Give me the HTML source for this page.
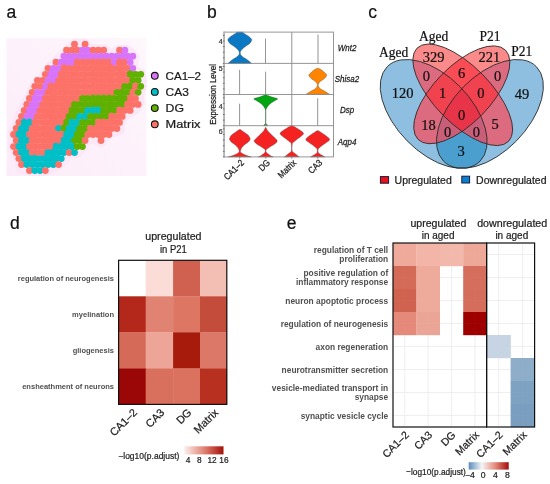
<!DOCTYPE html>
<html><head><meta charset="utf-8"><style>
html,body{margin:0;padding:0;background:#fff;overflow:hidden;width:550px;height:484px;}
svg{display:block;font-family:"Liberation Sans",sans-serif;will-change:transform;}
text{stroke-width:0.22px;}
text[fill="#222"]{stroke:#222;}
text[fill="#111"]{stroke:#111;}
text[fill="#1a1a1a"]{stroke:#1a1a1a;}
text[fill="#333"]{stroke:#333;}
</style></head><body>
<svg width="550" height="484" viewBox="0 0 550 484">
<defs><linearGradient id="bga" x1="0" y1="1" x2="1" y2="0"><stop offset="0" stop-color="#fcecf9"/><stop offset="1" stop-color="#fef7fc"/></linearGradient></defs><rect x="6.5" y="38" width="140" height="138" fill="url(#bga)"/>
<polygon points="75,43 85,43 90,48 105,49 110,54 118,50 126,49 131,52 135,57 133.5,64 134,70 141,73 142.5,81 142,88 139.5,95 140,104 135.5,110 128,114 123.5,118 120.5,124 120.5,130 112,133 105,137.5 101,143 93,139 85,142 83.5,147.5 77,153.5 69.5,154 65,158.5 59,165.5 50,169 46,171.5 29,171.5 21,169 18,159 15,153.5 12,147 12,140 11.5,134 14.5,127 17.5,120 21,111 24.5,104 28.5,97 31.5,91 37,80 42,79 45,73 48,68 55,61.5 62,55 66.5,50 72,47" fill="#fbe4f6" stroke="#fbe6f7" stroke-width="9" stroke-linejoin="round" opacity="0.8"/>
<circle cx="74.50" cy="44.20" r="3.4" fill="#fc7168"/>
<circle cx="85.10" cy="44.20" r="3.4" fill="#fc7168"/>
<circle cx="66.55" cy="50.22" r="3.4" fill="#fc7168"/>
<circle cx="71.85" cy="50.22" r="3.4" fill="#fc7168"/>
<circle cx="77.15" cy="50.22" r="3.4" fill="#fc7168"/>
<circle cx="82.45" cy="50.22" r="3.4" fill="#d874fa"/>
<circle cx="87.75" cy="50.22" r="3.4" fill="#d874fa"/>
<circle cx="93.05" cy="50.22" r="3.4" fill="#fc7168"/>
<circle cx="98.35" cy="50.22" r="3.4" fill="#fc7168"/>
<circle cx="103.65" cy="50.22" r="3.4" fill="#fc7168"/>
<circle cx="119.55" cy="50.22" r="3.4" fill="#fc7168"/>
<circle cx="124.85" cy="50.22" r="3.4" fill="#d874fa"/>
<circle cx="63.90" cy="56.24" r="3.4" fill="#d874fa"/>
<circle cx="69.20" cy="56.24" r="3.4" fill="#d874fa"/>
<circle cx="74.50" cy="56.24" r="3.4" fill="#d874fa"/>
<circle cx="79.80" cy="56.24" r="3.4" fill="#d874fa"/>
<polygon points="87.80,58.71 85.10,59.87 82.40,58.71 82.40,53.77 85.10,52.61 87.80,53.77" fill="#d874fa" stroke="#d874fa" stroke-width="0.8"/>
<circle cx="90.40" cy="56.24" r="3.4" fill="#d874fa"/>
<circle cx="95.70" cy="56.24" r="3.4" fill="#d874fa"/>
<circle cx="101.00" cy="56.24" r="3.4" fill="#d874fa"/>
<circle cx="106.30" cy="56.24" r="3.4" fill="#d874fa"/>
<circle cx="111.60" cy="56.24" r="3.4" fill="#d874fa"/>
<circle cx="116.90" cy="56.24" r="3.4" fill="#d874fa"/>
<polygon points="124.90,58.71 122.20,59.87 119.50,58.71 119.50,53.77 122.20,52.61 124.90,53.77" fill="#d874fa" stroke="#d874fa" stroke-width="0.8"/>
<circle cx="127.50" cy="56.24" r="3.4" fill="#d874fa"/>
<circle cx="132.80" cy="56.24" r="3.4" fill="#d874fa"/>
<circle cx="55.95" cy="62.26" r="3.4" fill="#fc7168"/>
<circle cx="61.25" cy="62.26" r="3.4" fill="#d874fa"/>
<polygon points="69.25,64.73 66.55,65.89 63.85,64.73 63.85,59.79 66.55,58.63 69.25,59.79" fill="#d874fa" stroke="#d874fa" stroke-width="0.8"/>
<polygon points="74.55,64.73 71.85,65.89 69.15,64.73 69.15,59.79 71.85,58.63 74.55,59.79" fill="#d874fa" stroke="#d874fa" stroke-width="0.8"/>
<polygon points="79.85,64.73 77.15,65.89 74.45,64.73 74.45,59.79 77.15,58.63 79.85,59.79" fill="#fc7168" stroke="#fc7168" stroke-width="0.8"/>
<circle cx="82.45" cy="62.26" r="3.4" fill="#fc7168"/>
<circle cx="87.75" cy="62.26" r="3.4" fill="#fc7168"/>
<polygon points="95.75,64.73 93.05,65.89 90.35,64.73 90.35,59.79 93.05,58.63 95.75,59.79" fill="#fc7168" stroke="#fc7168" stroke-width="0.8"/>
<polygon points="101.05,64.73 98.35,65.89 95.65,64.73 95.65,59.79 98.35,58.63 101.05,59.79" fill="#fc7168" stroke="#fc7168" stroke-width="0.8"/>
<polygon points="106.35,64.73 103.65,65.89 100.95,64.73 100.95,59.79 103.65,58.63 106.35,59.79" fill="#fc7168" stroke="#fc7168" stroke-width="0.8"/>
<polygon points="111.65,64.73 108.95,65.89 106.25,64.73 106.25,59.79 108.95,58.63 111.65,59.79" fill="#fc7168" stroke="#fc7168" stroke-width="0.8"/>
<circle cx="114.25" cy="62.26" r="3.4" fill="#d874fa"/>
<polygon points="122.25,64.73 119.55,65.89 116.85,64.73 116.85,59.79 119.55,58.63 122.25,59.79" fill="#fc7168" stroke="#fc7168" stroke-width="0.8"/>
<circle cx="124.85" cy="62.26" r="3.4" fill="#fc7168"/>
<circle cx="130.15" cy="62.26" r="3.4" fill="#d874fa"/>
<circle cx="48.00" cy="68.28" r="3.4" fill="#fc7168"/>
<circle cx="53.30" cy="68.28" r="3.4" fill="#d874fa"/>
<circle cx="58.60" cy="68.28" r="3.4" fill="#d874fa"/>
<polygon points="66.60,70.75 63.90,71.91 61.20,70.75 61.20,65.81 63.90,64.65 66.60,65.81" fill="#fc7168" stroke="#fc7168" stroke-width="0.8"/>
<circle cx="69.20" cy="68.28" r="3.4" fill="#fc7168"/>
<circle cx="74.50" cy="68.28" r="3.4" fill="#fc7168"/>
<circle cx="79.80" cy="68.28" r="3.4" fill="#fc7168"/>
<polygon points="87.80,70.75 85.10,71.91 82.40,70.75 82.40,65.81 85.10,64.65 87.80,65.81" fill="#fc7168" stroke="#fc7168" stroke-width="0.8"/>
<circle cx="90.40" cy="68.28" r="3.4" fill="#fc7168"/>
<circle cx="95.70" cy="68.28" r="3.4" fill="#fc7168"/>
<circle cx="101.00" cy="68.28" r="3.4" fill="#fc7168"/>
<circle cx="106.30" cy="68.28" r="3.4" fill="#fc7168"/>
<polygon points="114.30,70.75 111.60,71.91 108.90,70.75 108.90,65.81 111.60,64.65 114.30,65.81" fill="#fc7168" stroke="#fc7168" stroke-width="0.8"/>
<circle cx="116.90" cy="68.28" r="3.4" fill="#fc7168"/>
<polygon points="124.90,70.75 122.20,71.91 119.50,70.75 119.50,65.81 122.20,64.65 124.90,65.81" fill="#fc7168" stroke="#fc7168" stroke-width="0.8"/>
<circle cx="127.50" cy="68.28" r="3.4" fill="#fc7168"/>
<circle cx="132.80" cy="68.28" r="3.4" fill="#d874fa"/>
<circle cx="45.35" cy="74.30" r="3.4" fill="#fc7168"/>
<polygon points="53.35,76.77 50.65,77.93 47.95,76.77 47.95,71.83 50.65,70.67 53.35,71.83" fill="#d874fa" stroke="#d874fa" stroke-width="0.8"/>
<polygon points="58.65,76.77 55.95,77.93 53.25,76.77 53.25,71.83 55.95,70.67 58.65,71.83" fill="#d874fa" stroke="#d874fa" stroke-width="0.8"/>
<polygon points="63.95,76.77 61.25,77.93 58.55,76.77 58.55,71.83 61.25,70.67 63.95,71.83" fill="#fc7168" stroke="#fc7168" stroke-width="0.8"/>
<polygon points="69.25,76.77 66.55,77.93 63.85,76.77 63.85,71.83 66.55,70.67 69.25,71.83" fill="#fc7168" stroke="#fc7168" stroke-width="0.8"/>
<polygon points="74.55,76.77 71.85,77.93 69.15,76.77 69.15,71.83 71.85,70.67 74.55,71.83" fill="#fc7168" stroke="#fc7168" stroke-width="0.8"/>
<polygon points="79.85,76.77 77.15,77.93 74.45,76.77 74.45,71.83 77.15,70.67 79.85,71.83" fill="#fc7168" stroke="#fc7168" stroke-width="0.8"/>
<circle cx="82.45" cy="74.30" r="3.4" fill="#fc7168"/>
<circle cx="87.75" cy="74.30" r="3.4" fill="#fc7168"/>
<polygon points="95.75,76.77 93.05,77.93 90.35,76.77 90.35,71.83 93.05,70.67 95.75,71.83" fill="#fc7168" stroke="#fc7168" stroke-width="0.8"/>
<polygon points="101.05,76.77 98.35,77.93 95.65,76.77 95.65,71.83 98.35,70.67 101.05,71.83" fill="#fc7168" stroke="#fc7168" stroke-width="0.8"/>
<polygon points="106.35,76.77 103.65,77.93 100.95,76.77 100.95,71.83 103.65,70.67 106.35,71.83" fill="#fc7168" stroke="#fc7168" stroke-width="0.8"/>
<polygon points="111.65,76.77 108.95,77.93 106.25,76.77 106.25,71.83 108.95,70.67 111.65,71.83" fill="#fc7168" stroke="#fc7168" stroke-width="0.8"/>
<circle cx="114.25" cy="74.30" r="3.4" fill="#fc7168"/>
<polygon points="122.25,76.77 119.55,77.93 116.85,76.77 116.85,71.83 119.55,70.67 122.25,71.83" fill="#fc7168" stroke="#fc7168" stroke-width="0.8"/>
<circle cx="124.85" cy="74.30" r="3.4" fill="#fc7168"/>
<polygon points="132.85,76.77 130.15,77.93 127.45,76.77 127.45,71.83 130.15,70.67 132.85,71.83" fill="#60b000" stroke="#60b000" stroke-width="0.8"/>
<circle cx="135.45" cy="74.30" r="3.4" fill="#60b000"/>
<circle cx="140.75" cy="74.30" r="3.4" fill="#60b000"/>
<circle cx="37.40" cy="80.32" r="3.4" fill="#fc7168"/>
<circle cx="42.70" cy="80.32" r="3.4" fill="#fc7168"/>
<circle cx="48.00" cy="80.32" r="3.4" fill="#d874fa"/>
<polygon points="56.00,82.79 53.30,83.95 50.60,82.79 50.60,77.85 53.30,76.69 56.00,77.85" fill="#d874fa" stroke="#d874fa" stroke-width="0.8"/>
<circle cx="58.60" cy="80.32" r="3.4" fill="#fc7168"/>
<polygon points="66.60,82.79 63.90,83.95 61.20,82.79 61.20,77.85 63.90,76.69 66.60,77.85" fill="#fc7168" stroke="#fc7168" stroke-width="0.8"/>
<circle cx="69.20" cy="80.32" r="3.4" fill="#fc7168"/>
<circle cx="74.50" cy="80.32" r="3.4" fill="#fc7168"/>
<circle cx="79.80" cy="80.32" r="3.4" fill="#fc7168"/>
<polygon points="87.80,82.79 85.10,83.95 82.40,82.79 82.40,77.85 85.10,76.69 87.80,77.85" fill="#fc7168" stroke="#fc7168" stroke-width="0.8"/>
<circle cx="90.40" cy="80.32" r="3.4" fill="#fc7168"/>
<circle cx="95.70" cy="80.32" r="3.4" fill="#fc7168"/>
<circle cx="101.00" cy="80.32" r="3.4" fill="#fc7168"/>
<circle cx="106.30" cy="80.32" r="3.4" fill="#fc7168"/>
<polygon points="114.30,82.79 111.60,83.95 108.90,82.79 108.90,77.85 111.60,76.69 114.30,77.85" fill="#fc7168" stroke="#fc7168" stroke-width="0.8"/>
<circle cx="116.90" cy="80.32" r="3.4" fill="#fc7168"/>
<polygon points="124.90,82.79 122.20,83.95 119.50,82.79 119.50,77.85 122.20,76.69 124.90,77.85" fill="#fc7168" stroke="#fc7168" stroke-width="0.8"/>
<circle cx="127.50" cy="80.32" r="3.4" fill="#fc7168"/>
<circle cx="132.80" cy="80.32" r="3.4" fill="#60b000"/>
<circle cx="138.10" cy="80.32" r="3.4" fill="#60b000"/>
<circle cx="34.75" cy="86.34" r="3.4" fill="#fc7168"/>
<circle cx="40.05" cy="86.34" r="3.4" fill="#fc7168"/>
<polygon points="48.05,88.81 45.35,89.97 42.65,88.81 42.65,83.87 45.35,82.71 48.05,83.87" fill="#d874fa" stroke="#d874fa" stroke-width="0.8"/>
<polygon points="53.35,88.81 50.65,89.97 47.95,88.81 47.95,83.87 50.65,82.71 53.35,83.87" fill="#fc7168" stroke="#fc7168" stroke-width="0.8"/>
<polygon points="58.65,88.81 55.95,89.97 53.25,88.81 53.25,83.87 55.95,82.71 58.65,83.87" fill="#fc7168" stroke="#fc7168" stroke-width="0.8"/>
<polygon points="63.95,88.81 61.25,89.97 58.55,88.81 58.55,83.87 61.25,82.71 63.95,83.87" fill="#fc7168" stroke="#fc7168" stroke-width="0.8"/>
<polygon points="69.25,88.81 66.55,89.97 63.85,88.81 63.85,83.87 66.55,82.71 69.25,83.87" fill="#fc7168" stroke="#fc7168" stroke-width="0.8"/>
<polygon points="74.55,88.81 71.85,89.97 69.15,88.81 69.15,83.87 71.85,82.71 74.55,83.87" fill="#fc7168" stroke="#fc7168" stroke-width="0.8"/>
<polygon points="79.85,88.81 77.15,89.97 74.45,88.81 74.45,83.87 77.15,82.71 79.85,83.87" fill="#fc7168" stroke="#fc7168" stroke-width="0.8"/>
<circle cx="82.45" cy="86.34" r="3.4" fill="#fc7168"/>
<circle cx="87.75" cy="86.34" r="3.4" fill="#fc7168"/>
<polygon points="95.75,88.81 93.05,89.97 90.35,88.81 90.35,83.87 93.05,82.71 95.75,83.87" fill="#fc7168" stroke="#fc7168" stroke-width="0.8"/>
<polygon points="101.05,88.81 98.35,89.97 95.65,88.81 95.65,83.87 98.35,82.71 101.05,83.87" fill="#fc7168" stroke="#fc7168" stroke-width="0.8"/>
<polygon points="106.35,88.81 103.65,89.97 100.95,88.81 100.95,83.87 103.65,82.71 106.35,83.87" fill="#fc7168" stroke="#fc7168" stroke-width="0.8"/>
<polygon points="111.65,88.81 108.95,89.97 106.25,88.81 106.25,83.87 108.95,82.71 111.65,83.87" fill="#fc7168" stroke="#fc7168" stroke-width="0.8"/>
<circle cx="114.25" cy="86.34" r="3.4" fill="#fc7168"/>
<polygon points="122.25,88.81 119.55,89.97 116.85,88.81 116.85,83.87 119.55,82.71 122.25,83.87" fill="#fc7168" stroke="#fc7168" stroke-width="0.8"/>
<circle cx="124.85" cy="86.34" r="3.4" fill="#60b000"/>
<polygon points="132.85,88.81 130.15,89.97 127.45,88.81 127.45,83.87 130.15,82.71 132.85,83.87" fill="#60b000" stroke="#60b000" stroke-width="0.8"/>
<polygon points="138.15,88.81 135.45,89.97 132.75,88.81 132.75,83.87 135.45,82.71 138.15,83.87" fill="#fc7168" stroke="#fc7168" stroke-width="0.8"/>
<circle cx="140.75" cy="86.34" r="3.4" fill="#60b000"/>
<circle cx="32.10" cy="92.36" r="3.4" fill="#fc7168"/>
<circle cx="37.40" cy="92.36" r="3.4" fill="#d874fa"/>
<circle cx="42.70" cy="92.36" r="3.4" fill="#d874fa"/>
<circle cx="48.00" cy="92.36" r="3.4" fill="#fc7168"/>
<polygon points="56.00,94.83 53.30,95.99 50.60,94.83 50.60,89.89 53.30,88.73 56.00,89.89" fill="#fc7168" stroke="#fc7168" stroke-width="0.8"/>
<circle cx="58.60" cy="92.36" r="3.4" fill="#fc7168"/>
<polygon points="66.60,94.83 63.90,95.99 61.20,94.83 61.20,89.89 63.90,88.73 66.60,89.89" fill="#fc7168" stroke="#fc7168" stroke-width="0.8"/>
<circle cx="69.20" cy="92.36" r="3.4" fill="#fc7168"/>
<circle cx="74.50" cy="92.36" r="3.4" fill="#fc7168"/>
<circle cx="79.80" cy="92.36" r="3.4" fill="#fc7168"/>
<polygon points="87.80,94.83 85.10,95.99 82.40,94.83 82.40,89.89 85.10,88.73 87.80,89.89" fill="#fc7168" stroke="#fc7168" stroke-width="0.8"/>
<circle cx="90.40" cy="92.36" r="3.4" fill="#fc7168"/>
<circle cx="95.70" cy="92.36" r="3.4" fill="#fc7168"/>
<circle cx="101.00" cy="92.36" r="3.4" fill="#fc7168"/>
<circle cx="106.30" cy="92.36" r="3.4" fill="#fc7168"/>
<polygon points="114.30,94.83 111.60,95.99 108.90,94.83 108.90,89.89 111.60,88.73 114.30,89.89" fill="#fc7168" stroke="#fc7168" stroke-width="0.8"/>
<circle cx="116.90" cy="92.36" r="3.4" fill="#60b000"/>
<polygon points="124.90,94.83 122.20,95.99 119.50,94.83 119.50,89.89 122.20,88.73 124.90,89.89" fill="#60b000" stroke="#60b000" stroke-width="0.8"/>
<circle cx="127.50" cy="92.36" r="3.4" fill="#60b000"/>
<circle cx="132.80" cy="92.36" r="3.4" fill="#fc7168"/>
<circle cx="138.10" cy="92.36" r="3.4" fill="#60b000"/>
<circle cx="29.45" cy="98.38" r="3.4" fill="#fc7168"/>
<polygon points="37.45,100.85 34.75,102.01 32.05,100.85 32.05,95.91 34.75,94.75 37.45,95.91" fill="#d874fa" stroke="#d874fa" stroke-width="0.8"/>
<circle cx="40.05" cy="98.38" r="3.4" fill="#d874fa"/>
<polygon points="48.05,100.85 45.35,102.01 42.65,100.85 42.65,95.91 45.35,94.75 48.05,95.91" fill="#fc7168" stroke="#fc7168" stroke-width="0.8"/>
<polygon points="53.35,100.85 50.65,102.01 47.95,100.85 47.95,95.91 50.65,94.75 53.35,95.91" fill="#fc7168" stroke="#fc7168" stroke-width="0.8"/>
<polygon points="58.65,100.85 55.95,102.01 53.25,100.85 53.25,95.91 55.95,94.75 58.65,95.91" fill="#fc7168" stroke="#fc7168" stroke-width="0.8"/>
<polygon points="63.95,100.85 61.25,102.01 58.55,100.85 58.55,95.91 61.25,94.75 63.95,95.91" fill="#fc7168" stroke="#fc7168" stroke-width="0.8"/>
<polygon points="69.25,100.85 66.55,102.01 63.85,100.85 63.85,95.91 66.55,94.75 69.25,95.91" fill="#fc7168" stroke="#fc7168" stroke-width="0.8"/>
<polygon points="74.55,100.85 71.85,102.01 69.15,100.85 69.15,95.91 71.85,94.75 74.55,95.91" fill="#fc7168" stroke="#fc7168" stroke-width="0.8"/>
<polygon points="79.85,100.85 77.15,102.01 74.45,100.85 74.45,95.91 77.15,94.75 79.85,95.91" fill="#fc7168" stroke="#fc7168" stroke-width="0.8"/>
<circle cx="82.45" cy="98.38" r="3.4" fill="#60b000"/>
<circle cx="87.75" cy="98.38" r="3.4" fill="#60b000"/>
<polygon points="95.75,100.85 93.05,102.01 90.35,100.85 90.35,95.91 93.05,94.75 95.75,95.91" fill="#60b000" stroke="#60b000" stroke-width="0.8"/>
<polygon points="101.05,100.85 98.35,102.01 95.65,100.85 95.65,95.91 98.35,94.75 101.05,95.91" fill="#60b000" stroke="#60b000" stroke-width="0.8"/>
<polygon points="106.35,100.85 103.65,102.01 100.95,100.85 100.95,95.91 103.65,94.75 106.35,95.91" fill="#60b000" stroke="#60b000" stroke-width="0.8"/>
<polygon points="111.65,100.85 108.95,102.01 106.25,100.85 106.25,95.91 108.95,94.75 111.65,95.91" fill="#60b000" stroke="#60b000" stroke-width="0.8"/>
<circle cx="114.25" cy="98.38" r="3.4" fill="#60b000"/>
<polygon points="122.25,100.85 119.55,102.01 116.85,100.85 116.85,95.91 119.55,94.75 122.25,95.91" fill="#60b000" stroke="#60b000" stroke-width="0.8"/>
<circle cx="124.85" cy="98.38" r="3.4" fill="#60b000"/>
<polygon points="132.85,100.85 130.15,102.01 127.45,100.85 127.45,95.91 130.15,94.75 132.85,95.91" fill="#fc7168" stroke="#fc7168" stroke-width="0.8"/>
<circle cx="135.45" cy="98.38" r="3.4" fill="#fc7168"/>
<circle cx="26.80" cy="104.40" r="3.4" fill="#fc7168"/>
<circle cx="32.10" cy="104.40" r="3.4" fill="#d874fa"/>
<circle cx="37.40" cy="104.40" r="3.4" fill="#d874fa"/>
<circle cx="42.70" cy="104.40" r="3.4" fill="#fc7168"/>
<circle cx="48.00" cy="104.40" r="3.4" fill="#fc7168"/>
<polygon points="56.00,106.87 53.30,108.03 50.60,106.87 50.60,101.93 53.30,100.77 56.00,101.93" fill="#fc7168" stroke="#fc7168" stroke-width="0.8"/>
<circle cx="58.60" cy="104.40" r="3.4" fill="#fc7168"/>
<polygon points="66.60,106.87 63.90,108.03 61.20,106.87 61.20,101.93 63.90,100.77 66.60,101.93" fill="#fc7168" stroke="#fc7168" stroke-width="0.8"/>
<circle cx="69.20" cy="104.40" r="3.4" fill="#fc7168"/>
<circle cx="74.50" cy="104.40" r="3.4" fill="#60b000"/>
<circle cx="79.80" cy="104.40" r="3.4" fill="#60b000"/>
<polygon points="87.80,106.87 85.10,108.03 82.40,106.87 82.40,101.93 85.10,100.77 87.80,101.93" fill="#60b000" stroke="#60b000" stroke-width="0.8"/>
<circle cx="90.40" cy="104.40" r="3.4" fill="#60b000"/>
<circle cx="95.70" cy="104.40" r="3.4" fill="#60b000"/>
<circle cx="101.00" cy="104.40" r="3.4" fill="#60b000"/>
<circle cx="106.30" cy="104.40" r="3.4" fill="#60b000"/>
<polygon points="114.30,106.87 111.60,108.03 108.90,106.87 108.90,101.93 111.60,100.77 114.30,101.93" fill="#60b000" stroke="#60b000" stroke-width="0.8"/>
<circle cx="116.90" cy="104.40" r="3.4" fill="#60b000"/>
<polygon points="124.90,106.87 122.20,108.03 119.50,106.87 119.50,101.93 122.20,100.77 124.90,101.93" fill="#60b000" stroke="#60b000" stroke-width="0.8"/>
<circle cx="127.50" cy="104.40" r="3.4" fill="#fc7168"/>
<circle cx="132.80" cy="104.40" r="3.4" fill="#fc7168"/>
<circle cx="138.10" cy="104.40" r="3.4" fill="#fc7168"/>
<circle cx="24.15" cy="110.42" r="3.4" fill="#fc7168"/>
<polygon points="32.15,112.89 29.45,114.05 26.75,112.89 26.75,107.95 29.45,106.79 32.15,107.95" fill="#d874fa" stroke="#d874fa" stroke-width="0.8"/>
<polygon points="37.45,112.89 34.75,114.05 32.05,112.89 32.05,107.95 34.75,106.79 37.45,107.95" fill="#d874fa" stroke="#d874fa" stroke-width="0.8"/>
<circle cx="40.05" cy="110.42" r="3.4" fill="#fc7168"/>
<polygon points="48.05,112.89 45.35,114.05 42.65,112.89 42.65,107.95 45.35,106.79 48.05,107.95" fill="#fc7168" stroke="#fc7168" stroke-width="0.8"/>
<polygon points="53.35,112.89 50.65,114.05 47.95,112.89 47.95,107.95 50.65,106.79 53.35,107.95" fill="#fc7168" stroke="#fc7168" stroke-width="0.8"/>
<polygon points="58.65,112.89 55.95,114.05 53.25,112.89 53.25,107.95 55.95,106.79 58.65,107.95" fill="#fc7168" stroke="#fc7168" stroke-width="0.8"/>
<polygon points="63.95,112.89 61.25,114.05 58.55,112.89 58.55,107.95 61.25,106.79 63.95,107.95" fill="#fc7168" stroke="#fc7168" stroke-width="0.8"/>
<polygon points="69.25,112.89 66.55,114.05 63.85,112.89 63.85,107.95 66.55,106.79 69.25,107.95" fill="#fc7168" stroke="#fc7168" stroke-width="0.8"/>
<polygon points="74.55,112.89 71.85,114.05 69.15,112.89 69.15,107.95 71.85,106.79 74.55,107.95" fill="#60b000" stroke="#60b000" stroke-width="0.8"/>
<polygon points="79.85,112.89 77.15,114.05 74.45,112.89 74.45,107.95 77.15,106.79 79.85,107.95" fill="#60b000" stroke="#60b000" stroke-width="0.8"/>
<circle cx="82.45" cy="110.42" r="3.4" fill="#60b000"/>
<circle cx="87.75" cy="110.42" r="3.4" fill="#00bfc6"/>
<polygon points="95.75,112.89 93.05,114.05 90.35,112.89 90.35,107.95 93.05,106.79 95.75,107.95" fill="#00bfc6" stroke="#00bfc6" stroke-width="0.8"/>
<polygon points="101.05,112.89 98.35,114.05 95.65,112.89 95.65,107.95 98.35,106.79 101.05,107.95" fill="#00bfc6" stroke="#00bfc6" stroke-width="0.8"/>
<polygon points="106.35,112.89 103.65,114.05 100.95,112.89 100.95,107.95 103.65,106.79 106.35,107.95" fill="#60b000" stroke="#60b000" stroke-width="0.8"/>
<polygon points="111.65,112.89 108.95,114.05 106.25,112.89 106.25,107.95 108.95,106.79 111.65,107.95" fill="#60b000" stroke="#60b000" stroke-width="0.8"/>
<circle cx="114.25" cy="110.42" r="3.4" fill="#60b000"/>
<polygon points="122.25,112.89 119.55,114.05 116.85,112.89 116.85,107.95 119.55,106.79 122.25,107.95" fill="#fc7168" stroke="#fc7168" stroke-width="0.8"/>
<circle cx="124.85" cy="110.42" r="3.4" fill="#fc7168"/>
<circle cx="130.15" cy="110.42" r="3.4" fill="#fc7168"/>
<circle cx="21.50" cy="116.44" r="3.4" fill="#fc7168"/>
<circle cx="26.80" cy="116.44" r="3.4" fill="#d874fa"/>
<circle cx="32.10" cy="116.44" r="3.4" fill="#d874fa"/>
<circle cx="37.40" cy="116.44" r="3.4" fill="#fc7168"/>
<circle cx="42.70" cy="116.44" r="3.4" fill="#fc7168"/>
<circle cx="48.00" cy="116.44" r="3.4" fill="#fc7168"/>
<polygon points="56.00,118.91 53.30,120.07 50.60,118.91 50.60,113.97 53.30,112.81 56.00,113.97" fill="#fc7168" stroke="#fc7168" stroke-width="0.8"/>
<circle cx="58.60" cy="116.44" r="3.4" fill="#fc7168"/>
<polygon points="66.60,118.91 63.90,120.07 61.20,118.91 61.20,113.97 63.90,112.81 66.60,113.97" fill="#fc7168" stroke="#fc7168" stroke-width="0.8"/>
<circle cx="69.20" cy="116.44" r="3.4" fill="#60b000"/>
<circle cx="74.50" cy="116.44" r="3.4" fill="#60b000"/>
<circle cx="79.80" cy="116.44" r="3.4" fill="#00bfc6"/>
<polygon points="87.80,118.91 85.10,120.07 82.40,118.91 82.40,113.97 85.10,112.81 87.80,113.97" fill="#00bfc6" stroke="#00bfc6" stroke-width="0.8"/>
<circle cx="90.40" cy="116.44" r="3.4" fill="#60b000"/>
<circle cx="95.70" cy="116.44" r="3.4" fill="#60b000"/>
<circle cx="101.00" cy="116.44" r="3.4" fill="#60b000"/>
<circle cx="106.30" cy="116.44" r="3.4" fill="#60b000"/>
<polygon points="114.30,118.91 111.60,120.07 108.90,118.91 108.90,113.97 111.60,112.81 114.30,113.97" fill="#fc7168" stroke="#fc7168" stroke-width="0.8"/>
<circle cx="116.90" cy="116.44" r="3.4" fill="#fc7168"/>
<circle cx="122.20" cy="116.44" r="3.4" fill="#fc7168"/>
<circle cx="18.85" cy="122.46" r="3.4" fill="#fc7168"/>
<polygon points="26.85,124.93 24.15,126.09 21.45,124.93 21.45,119.99 24.15,118.83 26.85,119.99" fill="#00bfc6" stroke="#00bfc6" stroke-width="0.8"/>
<polygon points="32.15,124.93 29.45,126.09 26.75,124.93 26.75,119.99 29.45,118.83 32.15,119.99" fill="#00bfc6" stroke="#00bfc6" stroke-width="0.8"/>
<polygon points="37.45,124.93 34.75,126.09 32.05,124.93 32.05,119.99 34.75,118.83 37.45,119.99" fill="#fc7168" stroke="#fc7168" stroke-width="0.8"/>
<circle cx="40.05" cy="122.46" r="3.4" fill="#fc7168"/>
<polygon points="48.05,124.93 45.35,126.09 42.65,124.93 42.65,119.99 45.35,118.83 48.05,119.99" fill="#fc7168" stroke="#fc7168" stroke-width="0.8"/>
<polygon points="53.35,124.93 50.65,126.09 47.95,124.93 47.95,119.99 50.65,118.83 53.35,119.99" fill="#fc7168" stroke="#fc7168" stroke-width="0.8"/>
<polygon points="58.65,124.93 55.95,126.09 53.25,124.93 53.25,119.99 55.95,118.83 58.65,119.99" fill="#fc7168" stroke="#fc7168" stroke-width="0.8"/>
<polygon points="63.95,124.93 61.25,126.09 58.55,124.93 58.55,119.99 61.25,118.83 63.95,119.99" fill="#fc7168" stroke="#fc7168" stroke-width="0.8"/>
<polygon points="69.25,124.93 66.55,126.09 63.85,124.93 63.85,119.99 66.55,118.83 69.25,119.99" fill="#60b000" stroke="#60b000" stroke-width="0.8"/>
<polygon points="74.55,124.93 71.85,126.09 69.15,124.93 69.15,119.99 71.85,118.83 74.55,119.99" fill="#00bfc6" stroke="#00bfc6" stroke-width="0.8"/>
<polygon points="79.85,124.93 77.15,126.09 74.45,124.93 74.45,119.99 77.15,118.83 79.85,119.99" fill="#00bfc6" stroke="#00bfc6" stroke-width="0.8"/>
<circle cx="82.45" cy="122.46" r="3.4" fill="#60b000"/>
<circle cx="87.75" cy="122.46" r="3.4" fill="#60b000"/>
<polygon points="95.75,124.93 93.05,126.09 90.35,124.93 90.35,119.99 93.05,118.83 95.75,119.99" fill="#60b000" stroke="#60b000" stroke-width="0.8"/>
<polygon points="101.05,124.93 98.35,126.09 95.65,124.93 95.65,119.99 98.35,118.83 101.05,119.99" fill="#fc7168" stroke="#fc7168" stroke-width="0.8"/>
<polygon points="106.35,124.93 103.65,126.09 100.95,124.93 100.95,119.99 103.65,118.83 106.35,119.99" fill="#fc7168" stroke="#fc7168" stroke-width="0.8"/>
<polygon points="111.65,124.93 108.95,126.09 106.25,124.93 106.25,119.99 108.95,118.83 111.65,119.99" fill="#fc7168" stroke="#fc7168" stroke-width="0.8"/>
<circle cx="114.25" cy="122.46" r="3.4" fill="#fc7168"/>
<circle cx="119.55" cy="122.46" r="3.4" fill="#fc7168"/>
<circle cx="16.20" cy="128.48" r="3.4" fill="#fc7168"/>
<circle cx="21.50" cy="128.48" r="3.4" fill="#00bfc6"/>
<circle cx="26.80" cy="128.48" r="3.4" fill="#00bfc6"/>
<circle cx="32.10" cy="128.48" r="3.4" fill="#fc7168"/>
<circle cx="37.40" cy="128.48" r="3.4" fill="#fc7168"/>
<circle cx="42.70" cy="128.48" r="3.4" fill="#fc7168"/>
<circle cx="48.00" cy="128.48" r="3.4" fill="#fc7168"/>
<polygon points="56.00,130.95 53.30,132.11 50.60,130.95 50.60,126.01 53.30,124.85 56.00,126.01" fill="#fc7168" stroke="#fc7168" stroke-width="0.8"/>
<circle cx="58.60" cy="128.48" r="3.4" fill="#00bfc6"/>
<polygon points="66.60,130.95 63.90,132.11 61.20,130.95 61.20,126.01 63.90,124.85 66.60,126.01" fill="#60b000" stroke="#60b000" stroke-width="0.8"/>
<circle cx="69.20" cy="128.48" r="3.4" fill="#00bfc6"/>
<circle cx="74.50" cy="128.48" r="3.4" fill="#00bfc6"/>
<circle cx="79.80" cy="128.48" r="3.4" fill="#60b000"/>
<polygon points="87.80,130.95 85.10,132.11 82.40,130.95 82.40,126.01 85.10,124.85 87.80,126.01" fill="#60b000" stroke="#60b000" stroke-width="0.8"/>
<circle cx="90.40" cy="128.48" r="3.4" fill="#fc7168"/>
<circle cx="95.70" cy="128.48" r="3.4" fill="#fc7168"/>
<circle cx="101.00" cy="128.48" r="3.4" fill="#fc7168"/>
<circle cx="106.30" cy="128.48" r="3.4" fill="#fc7168"/>
<circle cx="111.60" cy="128.48" r="3.4" fill="#fc7168"/>
<circle cx="116.90" cy="128.48" r="3.4" fill="#fc7168"/>
<circle cx="13.55" cy="134.50" r="3.4" fill="#fc7168"/>
<polygon points="21.55,136.97 18.85,138.13 16.15,136.97 16.15,132.03 18.85,130.87 21.55,132.03" fill="#00bfc6" stroke="#00bfc6" stroke-width="0.8"/>
<polygon points="26.85,136.97 24.15,138.13 21.45,136.97 21.45,132.03 24.15,130.87 26.85,132.03" fill="#00bfc6" stroke="#00bfc6" stroke-width="0.8"/>
<polygon points="32.15,136.97 29.45,138.13 26.75,136.97 26.75,132.03 29.45,130.87 32.15,132.03" fill="#fc7168" stroke="#fc7168" stroke-width="0.8"/>
<polygon points="37.45,136.97 34.75,138.13 32.05,136.97 32.05,132.03 34.75,130.87 37.45,132.03" fill="#fc7168" stroke="#fc7168" stroke-width="0.8"/>
<circle cx="40.05" cy="134.50" r="3.4" fill="#fc7168"/>
<polygon points="48.05,136.97 45.35,138.13 42.65,136.97 42.65,132.03 45.35,130.87 48.05,132.03" fill="#fc7168" stroke="#fc7168" stroke-width="0.8"/>
<polygon points="53.35,136.97 50.65,138.13 47.95,136.97 47.95,132.03 50.65,130.87 53.35,132.03" fill="#fc7168" stroke="#fc7168" stroke-width="0.8"/>
<polygon points="58.65,136.97 55.95,138.13 53.25,136.97 53.25,132.03 55.95,130.87 58.65,132.03" fill="#fc7168" stroke="#fc7168" stroke-width="0.8"/>
<polygon points="63.95,136.97 61.25,138.13 58.55,136.97 58.55,132.03 61.25,130.87 63.95,132.03" fill="#fc7168" stroke="#fc7168" stroke-width="0.8"/>
<polygon points="69.25,136.97 66.55,138.13 63.85,136.97 63.85,132.03 66.55,130.87 69.25,132.03" fill="#00bfc6" stroke="#00bfc6" stroke-width="0.8"/>
<polygon points="74.55,136.97 71.85,138.13 69.15,136.97 69.15,132.03 71.85,130.87 74.55,132.03" fill="#00bfc6" stroke="#00bfc6" stroke-width="0.8"/>
<polygon points="79.85,136.97 77.15,138.13 74.45,136.97 74.45,132.03 77.15,130.87 79.85,132.03" fill="#60b000" stroke="#60b000" stroke-width="0.8"/>
<circle cx="82.45" cy="134.50" r="3.4" fill="#60b000"/>
<circle cx="87.75" cy="134.50" r="3.4" fill="#fc7168"/>
<circle cx="93.05" cy="134.50" r="3.4" fill="#fc7168"/>
<circle cx="98.35" cy="134.50" r="3.4" fill="#fc7168"/>
<circle cx="103.65" cy="134.50" r="3.4" fill="#fc7168"/>
<circle cx="108.95" cy="134.50" r="3.4" fill="#fc7168"/>
<circle cx="16.20" cy="140.52" r="3.4" fill="#fc7168"/>
<circle cx="21.50" cy="140.52" r="3.4" fill="#00bfc6"/>
<circle cx="26.80" cy="140.52" r="3.4" fill="#00bfc6"/>
<circle cx="32.10" cy="140.52" r="3.4" fill="#fc7168"/>
<circle cx="37.40" cy="140.52" r="3.4" fill="#fc7168"/>
<circle cx="42.70" cy="140.52" r="3.4" fill="#fc7168"/>
<circle cx="48.00" cy="140.52" r="3.4" fill="#fc7168"/>
<polygon points="56.00,142.99 53.30,144.15 50.60,142.99 50.60,138.05 53.30,136.89 56.00,138.05" fill="#fc7168" stroke="#fc7168" stroke-width="0.8"/>
<circle cx="58.60" cy="140.52" r="3.4" fill="#fc7168"/>
<polygon points="66.60,142.99 63.90,144.15 61.20,142.99 61.20,138.05 63.90,136.89 66.60,138.05" fill="#00bfc6" stroke="#00bfc6" stroke-width="0.8"/>
<circle cx="69.20" cy="140.52" r="3.4" fill="#00bfc6"/>
<circle cx="74.50" cy="140.52" r="3.4" fill="#60b000"/>
<circle cx="79.80" cy="140.52" r="3.4" fill="#60b000"/>
<circle cx="85.10" cy="140.52" r="3.4" fill="#fc7168"/>
<circle cx="101.00" cy="140.52" r="3.4" fill="#fc7168"/>
<circle cx="13.55" cy="146.54" r="3.4" fill="#fc7168"/>
<polygon points="21.55,149.01 18.85,150.17 16.15,149.01 16.15,144.07 18.85,142.91 21.55,144.07" fill="#00bfc6" stroke="#00bfc6" stroke-width="0.8"/>
<polygon points="26.85,149.01 24.15,150.17 21.45,149.01 21.45,144.07 24.15,142.91 26.85,144.07" fill="#00bfc6" stroke="#00bfc6" stroke-width="0.8"/>
<polygon points="32.15,149.01 29.45,150.17 26.75,149.01 26.75,144.07 29.45,142.91 32.15,144.07" fill="#fc7168" stroke="#fc7168" stroke-width="0.8"/>
<polygon points="37.45,149.01 34.75,150.17 32.05,149.01 32.05,144.07 34.75,142.91 37.45,144.07" fill="#fc7168" stroke="#fc7168" stroke-width="0.8"/>
<circle cx="40.05" cy="146.54" r="3.4" fill="#fc7168"/>
<polygon points="48.05,149.01 45.35,150.17 42.65,149.01 42.65,144.07 45.35,142.91 48.05,144.07" fill="#fc7168" stroke="#fc7168" stroke-width="0.8"/>
<polygon points="53.35,149.01 50.65,150.17 47.95,149.01 47.95,144.07 50.65,142.91 53.35,144.07" fill="#fc7168" stroke="#fc7168" stroke-width="0.8"/>
<polygon points="58.65,149.01 55.95,150.17 53.25,149.01 53.25,144.07 55.95,142.91 58.65,144.07" fill="#00bfc6" stroke="#00bfc6" stroke-width="0.8"/>
<polygon points="63.95,149.01 61.25,150.17 58.55,149.01 58.55,144.07 61.25,142.91 63.95,144.07" fill="#00bfc6" stroke="#00bfc6" stroke-width="0.8"/>
<polygon points="69.25,149.01 66.55,150.17 63.85,149.01 63.85,144.07 66.55,142.91 69.25,144.07" fill="#00bfc6" stroke="#00bfc6" stroke-width="0.8"/>
<polygon points="74.55,149.01 71.85,150.17 69.15,149.01 69.15,144.07 71.85,142.91 74.55,144.07" fill="#00bfc6" stroke="#00bfc6" stroke-width="0.8"/>
<circle cx="77.15" cy="146.54" r="3.4" fill="#60b000"/>
<circle cx="82.45" cy="146.54" r="3.4" fill="#60b000"/>
<circle cx="16.20" cy="152.56" r="3.4" fill="#fc7168"/>
<circle cx="21.50" cy="152.56" r="3.4" fill="#00bfc6"/>
<circle cx="26.80" cy="152.56" r="3.4" fill="#00bfc6"/>
<circle cx="32.10" cy="152.56" r="3.4" fill="#fc7168"/>
<circle cx="37.40" cy="152.56" r="3.4" fill="#fc7168"/>
<circle cx="42.70" cy="152.56" r="3.4" fill="#fc7168"/>
<circle cx="48.00" cy="152.56" r="3.4" fill="#00bfc6"/>
<polygon points="56.00,155.03 53.30,156.19 50.60,155.03 50.60,150.09 53.30,148.93 56.00,150.09" fill="#00bfc6" stroke="#00bfc6" stroke-width="0.8"/>
<circle cx="58.60" cy="152.56" r="3.4" fill="#00bfc6"/>
<circle cx="63.90" cy="152.56" r="3.4" fill="#00bfc6"/>
<circle cx="69.20" cy="152.56" r="3.4" fill="#fc7168"/>
<circle cx="74.50" cy="152.56" r="3.4" fill="#00bfc6"/>
<circle cx="18.85" cy="158.58" r="3.4" fill="#fc7168"/>
<polygon points="26.85,161.05 24.15,162.21 21.45,161.05 21.45,156.11 24.15,154.95 26.85,156.11" fill="#00bfc6" stroke="#00bfc6" stroke-width="0.8"/>
<polygon points="32.15,161.05 29.45,162.21 26.75,161.05 26.75,156.11 29.45,154.95 32.15,156.11" fill="#00bfc6" stroke="#00bfc6" stroke-width="0.8"/>
<polygon points="37.45,161.05 34.75,162.21 32.05,161.05 32.05,156.11 34.75,154.95 37.45,156.11" fill="#00bfc6" stroke="#00bfc6" stroke-width="0.8"/>
<circle cx="40.05" cy="158.58" r="3.4" fill="#00bfc6"/>
<polygon points="48.05,161.05 45.35,162.21 42.65,161.05 42.65,156.11 45.35,154.95 48.05,156.11" fill="#00bfc6" stroke="#00bfc6" stroke-width="0.8"/>
<polygon points="53.35,161.05 50.65,162.21 47.95,161.05 47.95,156.11 50.65,154.95 53.35,156.11" fill="#00bfc6" stroke="#00bfc6" stroke-width="0.8"/>
<polygon points="58.65,161.05 55.95,162.21 53.25,161.05 53.25,156.11 55.95,154.95 58.65,156.11" fill="#00bfc6" stroke="#00bfc6" stroke-width="0.8"/>
<circle cx="61.25" cy="158.58" r="3.4" fill="#00bfc6"/>
<circle cx="21.50" cy="164.60" r="3.4" fill="#fc7168"/>
<circle cx="26.80" cy="164.60" r="3.4" fill="#00bfc6"/>
<circle cx="32.10" cy="164.60" r="3.4" fill="#00bfc6"/>
<circle cx="37.40" cy="164.60" r="3.4" fill="#00bfc6"/>
<circle cx="42.70" cy="164.60" r="3.4" fill="#00bfc6"/>
<circle cx="48.00" cy="164.60" r="3.4" fill="#00bfc6"/>
<circle cx="53.30" cy="164.60" r="3.4" fill="#00bfc6"/>
<circle cx="58.60" cy="164.60" r="3.4" fill="#fc7168"/>
<circle cx="29.45" cy="170.62" r="3.4" fill="#fc7168"/>
<circle cx="34.75" cy="170.62" r="3.4" fill="#00bfc6"/>
<circle cx="40.05" cy="170.62" r="3.4" fill="#00bfc6"/>
<circle cx="45.35" cy="170.62" r="3.4" fill="#fc7168"/>
<circle cx="154.8" cy="75.8" r="3.4" fill="#d874fa" stroke="#111" stroke-width="1.1"/>
<text x="165.6" y="79.9" font-size="11.3" fill="#1a1a1a" textLength="35.4" lengthAdjust="spacingAndGlyphs">CA1–2</text>
<circle cx="154.8" cy="91.9" r="3.4" fill="#00bfc6" stroke="#111" stroke-width="1.1"/>
<text x="165.6" y="96.0" font-size="11.3" fill="#1a1a1a" textLength="23.2" lengthAdjust="spacingAndGlyphs">CA3</text>
<circle cx="154.8" cy="108.1" r="3.4" fill="#60b000" stroke="#111" stroke-width="1.1"/>
<text x="165.6" y="112.2" font-size="11.3" fill="#1a1a1a" textLength="18.4" lengthAdjust="spacingAndGlyphs">DG</text>
<circle cx="154.8" cy="124.3" r="3.4" fill="#fc7168" stroke="#111" stroke-width="1.1"/>
<text x="165.6" y="128.4" font-size="11.3" fill="#1a1a1a" textLength="34.8" lengthAdjust="spacingAndGlyphs">Matrix</text>
<polygon points="242.90,32.10 242.91,32.17 242.89,32.24 242.88,32.34 242.94,32.49 243.13,32.70 243.50,33.00 244.12,33.42 244.96,33.95 245.92,34.55 246.91,35.17 247.84,35.77 248.60,36.30 249.22,36.78 249.76,37.24 250.24,37.68 250.66,38.09 251.01,38.47 251.30,38.80 251.51,39.08 251.63,39.30 251.69,39.48 251.71,39.65 251.71,39.82 251.70,40.00 251.70,40.18 251.68,40.35 251.64,40.52 251.57,40.70 251.46,40.92 251.30,41.20 251.11,41.53 250.91,41.91 250.67,42.32 250.37,42.76 249.98,43.22 249.50,43.70 248.87,44.20 248.10,44.74 247.26,45.30 246.39,45.87 245.55,46.44 244.80,47.00 244.12,47.55 243.45,48.11 242.82,48.67 242.24,49.23 241.72,49.77 241.30,50.30 240.96,50.81 240.69,51.30 240.49,51.77 240.36,52.25 240.29,52.72 240.30,53.20 240.36,53.68 240.49,54.15 240.68,54.63 240.95,55.10 241.32,55.59 241.80,56.10 242.43,56.62 243.21,57.14 244.09,57.68 245.02,58.23 245.94,58.80 246.80,59.40 247.67,60.07 248.59,60.83 249.51,61.61 250.36,62.34 251.08,62.96 251.60,63.40 228.00,63.40 228.52,62.96 229.24,62.34 230.09,61.61 231.01,60.83 231.93,60.07 232.80,59.40 233.66,58.80 234.58,58.23 235.51,57.68 236.39,57.14 237.17,56.62 237.80,56.10 238.28,55.59 238.65,55.10 238.93,54.63 239.11,54.15 239.24,53.68 239.30,53.20 239.31,52.72 239.24,52.25 239.11,51.77 238.91,51.30 238.64,50.81 238.30,50.30 237.88,49.77 237.36,49.23 236.78,48.67 236.15,48.11 235.48,47.55 234.80,47.00 234.05,46.44 233.21,45.87 232.34,45.30 231.50,44.74 230.73,44.20 230.10,43.70 229.62,43.22 229.23,42.76 228.93,42.32 228.69,41.91 228.49,41.53 228.30,41.20 228.14,40.92 228.03,40.70 227.96,40.52 227.92,40.35 227.90,40.18 227.90,40.00 227.89,39.82 227.89,39.65 227.91,39.48 227.97,39.30 228.09,39.08 228.30,38.80 228.59,38.47 228.94,38.09 229.36,37.68 229.84,37.24 230.38,36.78 231.00,36.30 231.76,35.77 232.69,35.17 233.68,34.55 234.64,33.95 235.48,33.42 236.10,33.00 236.47,32.70 236.66,32.49 236.72,32.34 236.71,32.24 236.69,32.17 236.70,32.10" fill="#0b78c4" stroke="#444" stroke-width="0.35" stroke-linejoin="round"/>
<polygon points="318.40,68.30 318.61,68.39 318.89,68.49 319.23,68.63 319.61,68.79 320.00,68.98 320.40,69.20 320.80,69.46 321.23,69.74 321.68,70.06 322.14,70.41 322.61,70.79 323.10,71.20 323.64,71.68 324.24,72.23 324.85,72.81 325.43,73.37 325.93,73.89 326.30,74.30 326.53,74.60 326.66,74.81 326.70,74.97 326.70,75.11 326.67,75.24 326.65,75.40 326.64,75.57 326.62,75.73 326.57,75.88 326.49,76.05 326.37,76.25 326.20,76.50 325.98,76.79 325.74,77.11 325.45,77.46 325.10,77.84 324.69,78.26 324.20,78.70 323.57,79.19 322.81,79.72 321.98,80.28 321.15,80.86 320.40,81.44 319.80,82.00 319.33,82.55 318.93,83.10 318.61,83.65 318.37,84.20 318.23,84.75 318.20,85.30 318.28,85.85 318.46,86.41 318.73,86.97 319.10,87.53 319.56,88.07 320.10,88.60 320.77,89.11 321.58,89.60 322.48,90.07 323.42,90.55 324.34,91.02 325.20,91.50 326.05,92.02 326.94,92.57 327.82,93.13 328.63,93.65 329.31,94.08 329.80,94.40 305.80,94.40 306.29,94.08 306.97,93.65 307.78,93.13 308.66,92.57 309.55,92.02 310.40,91.50 311.26,91.02 312.18,90.55 313.12,90.07 314.02,89.60 314.83,89.11 315.50,88.60 316.04,88.07 316.50,87.53 316.87,86.97 317.14,86.41 317.32,85.85 317.40,85.30 317.37,84.75 317.23,84.20 316.99,83.65 316.67,83.10 316.27,82.55 315.80,82.00 315.20,81.44 314.45,80.86 313.62,80.28 312.79,79.72 312.03,79.19 311.40,78.70 310.91,78.26 310.50,77.84 310.15,77.46 309.86,77.11 309.62,76.79 309.40,76.50 309.23,76.25 309.11,76.05 309.03,75.88 308.98,75.73 308.96,75.57 308.95,75.40 308.93,75.24 308.90,75.11 308.90,74.97 308.94,74.81 309.07,74.60 309.30,74.30 309.67,73.89 310.17,73.37 310.75,72.81 311.36,72.23 311.96,71.68 312.50,71.20 312.99,70.79 313.46,70.41 313.93,70.06 314.37,69.74 314.80,69.46 315.20,69.20 315.60,68.98 315.99,68.79 316.37,68.63 316.71,68.49 316.99,68.39 317.20,68.30" fill="#ff8400" stroke="#444" stroke-width="0.35" stroke-linejoin="round"/>
<polygon points="266.10,94.60 266.19,94.66 266.30,94.73 266.43,94.81 266.61,94.92 266.87,95.05 267.20,95.20 267.61,95.38 268.07,95.58 268.60,95.81 269.20,96.05 269.90,96.32 270.70,96.60 271.74,96.92 273.03,97.27 274.41,97.64 275.72,98.01 276.79,98.37 277.45,98.70 277.66,98.99 277.53,99.25 277.17,99.50 276.66,99.75 276.10,100.01 275.60,100.30 275.11,100.62 274.54,100.95 273.93,101.29 273.30,101.65 272.68,102.02 272.10,102.40 271.54,102.80 270.97,103.24 270.41,103.68 269.89,104.12 269.41,104.53 269.00,104.90 268.68,105.20 268.45,105.44 268.26,105.65 268.10,105.87 267.92,106.15 267.70,106.50 267.42,106.93 267.10,107.40 266.77,107.92 266.46,108.50 266.20,109.12 266.00,109.80 265.89,110.52 265.85,111.27 265.85,112.07 265.86,112.94 265.89,113.91 265.90,115.00 265.89,116.32 265.88,117.90 265.87,119.56 265.88,121.17 265.92,122.57 266.00,123.60 266.14,124.21 266.34,124.49 266.57,124.57 266.81,124.54 267.03,124.52 267.20,124.60 267.33,124.79 267.44,125.00 267.52,125.21 267.60,125.41 267.65,125.58 267.70,125.70 263.70,125.70 263.75,125.58 263.80,125.41 263.88,125.21 263.96,125.00 264.07,124.79 264.20,124.60 264.37,124.52 264.59,124.54 264.82,124.57 265.06,124.49 265.26,124.21 265.40,123.60 265.48,122.57 265.52,121.17 265.53,119.56 265.52,117.90 265.51,116.32 265.50,115.00 265.51,113.91 265.54,112.94 265.55,112.07 265.55,111.27 265.51,110.52 265.40,109.80 265.20,109.12 264.94,108.50 264.62,107.92 264.30,107.40 263.98,106.93 263.70,106.50 263.48,106.15 263.30,105.87 263.14,105.65 262.95,105.44 262.72,105.20 262.40,104.90 261.99,104.53 261.51,104.12 260.99,103.68 260.43,103.24 259.86,102.80 259.30,102.40 258.72,102.02 258.10,101.65 257.47,101.29 256.86,100.95 256.29,100.62 255.80,100.30 255.30,100.01 254.74,99.75 254.23,99.50 253.87,99.25 253.74,98.99 253.95,98.70 254.61,98.37 255.68,98.01 256.99,97.64 258.37,97.27 259.66,96.92 260.70,96.60 261.50,96.32 262.20,96.05 262.80,95.81 263.33,95.58 263.79,95.38 264.20,95.20 264.53,95.05 264.79,94.92 264.97,94.81 265.10,94.73 265.21,94.66 265.30,94.60" fill="#03a512" stroke="#444" stroke-width="0.35" stroke-linejoin="round"/>
<polygon points="240.40,129.60 240.76,129.85 241.25,130.20 241.84,130.61 242.48,131.07 243.15,131.54 243.80,132.00 244.48,132.47 245.23,132.96 246.00,133.47 246.75,133.99 247.43,134.50 248.00,135.00 248.46,135.50 248.83,136.01 249.14,136.52 249.40,137.00 249.61,137.43 249.80,137.80 249.95,138.08 250.05,138.29 250.11,138.46 250.14,138.60 250.15,138.74 250.15,138.90 250.15,139.07 250.13,139.23 250.09,139.39 250.03,139.57 249.93,139.76 249.80,140.00 249.65,140.27 249.48,140.56 249.28,140.88 249.03,141.23 248.71,141.60 248.30,142.00 247.76,142.44 247.10,142.93 246.38,143.44 245.63,143.96 244.92,144.49 244.30,145.00 243.76,145.49 243.25,145.98 242.78,146.47 242.34,146.96 241.95,147.47 241.60,148.00 241.28,148.57 240.97,149.19 240.71,149.81 240.51,150.43 240.40,151.00 240.40,151.50 240.51,151.92 240.71,152.28 240.99,152.59 241.36,152.89 241.80,153.18 242.30,153.50 242.90,153.84 243.61,154.19 244.39,154.54 245.21,154.88 246.02,155.20 246.80,155.50 247.60,155.78 248.45,156.06 249.31,156.32 250.10,156.56 250.77,156.75 251.25,156.90 228.35,156.90 228.83,156.75 229.50,156.56 230.29,156.32 231.15,156.06 232.00,155.78 232.80,155.50 233.58,155.20 234.39,154.88 235.21,154.54 235.99,154.19 236.70,153.84 237.30,153.50 237.80,153.18 238.24,152.89 238.61,152.59 238.89,152.28 239.09,151.92 239.20,151.50 239.20,151.00 239.09,150.43 238.89,149.81 238.63,149.19 238.32,148.57 238.00,148.00 237.65,147.47 237.26,146.96 236.83,146.47 236.35,145.98 235.84,145.49 235.30,145.00 234.68,144.49 233.97,143.96 233.23,143.44 232.50,142.93 231.84,142.44 231.30,142.00 230.89,141.60 230.57,141.23 230.32,140.88 230.12,140.56 229.95,140.27 229.80,140.00 229.67,139.76 229.57,139.57 229.51,139.39 229.47,139.23 229.45,139.07 229.45,138.90 229.45,138.74 229.46,138.60 229.49,138.46 229.55,138.29 229.65,138.08 229.80,137.80 229.99,137.43 230.20,137.00 230.46,136.52 230.77,136.01 231.14,135.50 231.60,135.00 232.17,134.50 232.85,133.99 233.60,133.47 234.37,132.96 235.12,132.47 235.80,132.00 236.45,131.54 237.12,131.07 237.76,130.61 238.35,130.20 238.84,129.85 239.20,129.60" fill="#f52222" stroke="#444" stroke-width="0.35" stroke-linejoin="round"/>
<polygon points="266.00,127.50 266.12,127.77 266.26,128.13 266.44,128.56 266.66,129.04 266.91,129.53 267.20,130.00 267.52,130.46 267.87,130.93 268.26,131.41 268.69,131.91 269.17,132.44 269.70,133.00 270.32,133.62 271.02,134.30 271.77,135.00 272.53,135.70 273.26,136.38 273.90,137.00 274.49,137.58 275.06,138.14 275.59,138.68 276.07,139.18 276.48,139.62 276.80,140.00 277.02,140.29 277.14,140.51 277.18,140.67 277.19,140.80 277.17,140.94 277.15,141.10 277.14,141.28 277.12,141.44 277.07,141.61 276.99,141.78 276.87,141.98 276.70,142.20 276.48,142.45 276.22,142.72 275.92,143.01 275.57,143.32 275.17,143.65 274.70,144.00 274.14,144.38 273.48,144.80 272.76,145.24 272.03,145.68 271.33,146.10 270.70,146.50 270.12,146.87 269.57,147.23 269.04,147.58 268.55,147.90 268.10,148.21 267.70,148.50 267.35,148.75 267.03,148.95 266.76,149.14 266.53,149.33 266.35,149.54 266.20,149.80 266.09,150.12 266.01,150.47 265.98,150.86 266.00,151.25 266.07,151.63 266.20,152.00 266.41,152.34 266.68,152.68 267.01,153.01 267.39,153.34 267.79,153.67 268.20,154.00 268.65,154.35 269.17,154.71 269.71,155.07 270.24,155.41 270.75,155.73 271.20,156.00 271.60,156.22 271.99,156.41 272.34,156.57 272.65,156.71 272.91,156.81 273.10,156.90 258.30,156.90 258.49,156.81 258.75,156.71 259.06,156.57 259.41,156.41 259.80,156.22 260.20,156.00 260.65,155.73 261.16,155.41 261.69,155.07 262.23,154.71 262.75,154.35 263.20,154.00 263.61,153.67 264.01,153.34 264.39,153.01 264.72,152.68 264.99,152.34 265.20,152.00 265.33,151.63 265.40,151.25 265.42,150.86 265.39,150.47 265.31,150.12 265.20,149.80 265.05,149.54 264.87,149.33 264.64,149.14 264.37,148.95 264.05,148.75 263.70,148.50 263.30,148.21 262.85,147.90 262.36,147.58 261.83,147.23 261.28,146.87 260.70,146.50 260.07,146.10 259.37,145.68 258.64,145.24 257.92,144.80 257.26,144.38 256.70,144.00 256.23,143.65 255.83,143.32 255.48,143.01 255.18,142.72 254.92,142.45 254.70,142.20 254.53,141.98 254.41,141.78 254.33,141.61 254.28,141.44 254.26,141.28 254.25,141.10 254.23,140.94 254.21,140.80 254.22,140.67 254.26,140.51 254.38,140.29 254.60,140.00 254.92,139.62 255.33,139.18 255.81,138.68 256.34,138.14 256.91,137.58 257.50,137.00 258.14,136.38 258.87,135.70 259.62,135.00 260.38,134.30 261.08,133.62 261.70,133.00 262.23,132.44 262.71,131.91 263.14,131.41 263.53,130.93 263.88,130.46 264.20,130.00 264.49,129.53 264.74,129.04 264.96,128.56 265.14,128.13 265.28,127.77 265.40,127.50" fill="#f52222" stroke="#444" stroke-width="0.35" stroke-linejoin="round"/>
<polygon points="292.60,125.80 292.93,125.97 293.37,126.19 293.91,126.46 294.50,126.77 295.14,127.12 295.80,127.50 296.52,127.94 297.34,128.44 298.19,128.99 299.04,129.53 299.83,130.05 300.50,130.50 301.07,130.89 301.57,131.24 302.01,131.57 302.40,131.87 302.72,132.14 303.00,132.40 303.21,132.63 303.35,132.83 303.44,133.00 303.48,133.16 303.50,133.33 303.50,133.50 303.49,133.67 303.47,133.84 303.42,134.00 303.33,134.17 303.19,134.37 303.00,134.60 302.75,134.86 302.46,135.13 302.12,135.43 301.73,135.76 301.29,136.11 300.80,136.50 300.23,136.94 299.56,137.44 298.85,137.96 298.13,138.50 297.43,139.02 296.80,139.50 296.22,139.95 295.67,140.40 295.14,140.83 294.65,141.24 294.20,141.63 293.80,142.00 293.45,142.28 293.14,142.46 292.87,142.61 292.64,142.83 292.45,143.20 292.30,143.80 292.18,144.73 292.08,145.96 292.03,147.33 292.02,148.71 292.07,149.94 292.20,150.90 292.42,151.54 292.72,151.97 293.09,152.27 293.49,152.49 293.90,152.71 294.30,153.00 294.70,153.34 295.11,153.68 295.53,154.01 295.96,154.34 296.39,154.67 296.80,155.00 297.23,155.34 297.68,155.71 298.13,156.07 298.55,156.41 298.90,156.69 299.15,156.90 284.45,156.90 284.70,156.69 285.05,156.41 285.47,156.07 285.92,155.71 286.37,155.34 286.80,155.00 287.21,154.67 287.64,154.34 288.07,154.01 288.49,153.68 288.90,153.34 289.30,153.00 289.70,152.71 290.11,152.49 290.51,152.27 290.88,151.97 291.18,151.54 291.40,150.90 291.53,149.94 291.58,148.71 291.57,147.33 291.52,145.96 291.42,144.73 291.30,143.80 291.15,143.20 290.96,142.83 290.73,142.61 290.46,142.46 290.15,142.28 289.80,142.00 289.40,141.63 288.95,141.24 288.46,140.83 287.93,140.40 287.38,139.95 286.80,139.50 286.17,139.02 285.47,138.50 284.75,137.96 284.04,137.44 283.37,136.94 282.80,136.50 282.31,136.11 281.87,135.76 281.48,135.43 281.14,135.13 280.85,134.86 280.60,134.60 280.41,134.37 280.27,134.17 280.18,134.00 280.13,133.84 280.11,133.67 280.10,133.50 280.10,133.33 280.12,133.16 280.16,133.00 280.25,132.83 280.39,132.63 280.60,132.40 280.88,132.14 281.20,131.87 281.59,131.57 282.03,131.24 282.53,130.89 283.10,130.50 283.77,130.05 284.56,129.53 285.41,128.99 286.26,128.44 287.08,127.94 287.80,127.50 288.46,127.12 289.10,126.77 289.69,126.46 290.23,126.19 290.67,125.97 291.00,125.80" fill="#f52222" stroke="#444" stroke-width="0.35" stroke-linejoin="round"/>
<polygon points="318.50,130.70 318.96,131.00 319.59,131.42 320.34,131.91 321.14,132.45 321.95,132.99 322.70,133.50 323.42,134.00 324.17,134.53 324.93,135.06 325.65,135.57 326.32,136.06 326.90,136.50 327.40,136.89 327.85,137.24 328.23,137.57 328.57,137.87 328.86,138.14 329.10,138.40 329.29,138.63 329.41,138.83 329.49,139.00 329.53,139.16 329.55,139.33 329.55,139.50 329.55,139.67 329.55,139.84 329.52,140.00 329.45,140.17 329.32,140.37 329.10,140.60 328.80,140.86 328.42,141.13 327.98,141.43 327.49,141.76 326.96,142.11 326.40,142.50 325.77,142.94 325.07,143.44 324.32,143.96 323.57,144.50 322.85,145.02 322.20,145.50 321.61,145.96 321.04,146.41 320.50,146.86 320.01,147.27 319.57,147.66 319.20,148.00 318.90,148.26 318.68,148.45 318.51,148.61 318.38,148.77 318.28,148.99 318.20,149.30 318.13,149.74 318.07,150.27 318.04,150.86 318.06,151.45 318.14,152.01 318.30,152.50 318.55,152.90 318.86,153.24 319.24,153.55 319.68,153.85 320.17,154.16 320.70,154.50 321.34,154.90 322.12,155.36 322.95,155.82 323.74,156.26 324.42,156.63 324.90,156.90 310.50,156.90 310.98,156.63 311.66,156.26 312.45,155.82 313.28,155.36 314.06,154.90 314.70,154.50 315.23,154.16 315.72,153.85 316.16,153.55 316.54,153.24 316.85,152.90 317.10,152.50 317.26,152.01 317.34,151.45 317.36,150.86 317.33,150.27 317.27,149.74 317.20,149.30 317.12,148.99 317.02,148.77 316.89,148.61 316.72,148.45 316.50,148.26 316.20,148.00 315.83,147.66 315.39,147.27 314.90,146.86 314.36,146.41 313.79,145.96 313.20,145.50 312.55,145.02 311.83,144.50 311.08,143.96 310.33,143.44 309.63,142.94 309.00,142.50 308.44,142.11 307.91,141.76 307.42,141.43 306.98,141.13 306.60,140.86 306.30,140.60 306.08,140.37 305.95,140.17 305.88,140.00 305.85,139.84 305.85,139.67 305.85,139.50 305.85,139.33 305.87,139.16 305.91,139.00 305.99,138.83 306.11,138.63 306.30,138.40 306.54,138.14 306.83,137.87 307.17,137.57 307.55,137.24 308.00,136.89 308.50,136.50 309.08,136.06 309.75,135.57 310.47,135.06 311.23,134.53 311.98,134.00 312.70,133.50 313.45,132.99 314.26,132.45 315.06,131.91 315.81,131.42 316.44,131.00 316.90,130.70" fill="#f52222" stroke="#444" stroke-width="0.35" stroke-linejoin="round"/>
<line x1="265.5" y1="38.6" x2="265.5" y2="63.4" stroke="#666" stroke-width="0.7"/>
<line x1="291.8" y1="32.1" x2="291.8" y2="63.4" stroke="#666" stroke-width="0.7"/>
<line x1="318" y1="34.5" x2="318" y2="63.4" stroke="#666" stroke-width="0.7"/>
<line x1="239.6" y1="69.8" x2="239.6" y2="94.5" stroke="#666" stroke-width="0.7"/>
<line x1="265.6" y1="71.7" x2="265.6" y2="94.5" stroke="#666" stroke-width="0.7"/>
<line x1="291.8" y1="63.4" x2="291.8" y2="94.5" stroke="#666" stroke-width="0.7"/>
<line x1="239.6" y1="103.7" x2="239.6" y2="125.7" stroke="#666" stroke-width="0.7"/>
<line x1="291.8" y1="94.5" x2="291.8" y2="125.7" stroke="#666" stroke-width="0.7"/>
<line x1="317.7" y1="98.3" x2="317.7" y2="125.7" stroke="#666" stroke-width="0.7"/>
<line x1="224.5" y1="63.4" x2="333.5" y2="63.4" stroke="#8a8a8a" stroke-width="0.9"/>
<line x1="224.5" y1="94.5" x2="333.5" y2="94.5" stroke="#8a8a8a" stroke-width="0.9"/>
<line x1="224.5" y1="125.7" x2="333.5" y2="125.7" stroke="#8a8a8a" stroke-width="0.9"/>
<rect x="224.5" y="32.1" width="109.0" height="124.80000000000001" fill="none" stroke="#8a8a8a" stroke-width="0.9"/>
<line x1="224.0" y1="31.6" x2="224.0" y2="157.4" stroke="#b8b8b8" stroke-width="1.8"/>
<line x1="222.9" y1="63.4" x2="224.5" y2="63.4" stroke="#555" stroke-width="0.7"/>
<line x1="222.9" y1="57.8" x2="224.5" y2="57.8" stroke="#555" stroke-width="0.7"/>
<line x1="222.9" y1="52.2" x2="224.5" y2="52.2" stroke="#555" stroke-width="0.7"/>
<line x1="222.9" y1="46.6" x2="224.5" y2="46.6" stroke="#555" stroke-width="0.7"/>
<line x1="222.9" y1="41.0" x2="224.5" y2="41.0" stroke="#555" stroke-width="0.7"/>
<line x1="222.9" y1="35.4" x2="224.5" y2="35.4" stroke="#555" stroke-width="0.7"/>
<line x1="222.9" y1="94.5" x2="224.5" y2="94.5" stroke="#555" stroke-width="0.7"/>
<line x1="222.9" y1="88.9" x2="224.5" y2="88.9" stroke="#555" stroke-width="0.7"/>
<line x1="222.9" y1="83.3" x2="224.5" y2="83.3" stroke="#555" stroke-width="0.7"/>
<line x1="222.9" y1="77.7" x2="224.5" y2="77.7" stroke="#555" stroke-width="0.7"/>
<line x1="222.9" y1="72.1" x2="224.5" y2="72.1" stroke="#555" stroke-width="0.7"/>
<line x1="222.9" y1="66.5" x2="224.5" y2="66.5" stroke="#555" stroke-width="0.7"/>
<line x1="222.9" y1="125.7" x2="224.5" y2="125.7" stroke="#555" stroke-width="0.7"/>
<line x1="222.9" y1="120.1" x2="224.5" y2="120.1" stroke="#555" stroke-width="0.7"/>
<line x1="222.9" y1="114.5" x2="224.5" y2="114.5" stroke="#555" stroke-width="0.7"/>
<line x1="222.9" y1="108.9" x2="224.5" y2="108.9" stroke="#555" stroke-width="0.7"/>
<line x1="222.9" y1="103.3" x2="224.5" y2="103.3" stroke="#555" stroke-width="0.7"/>
<line x1="222.9" y1="97.7" x2="224.5" y2="97.7" stroke="#555" stroke-width="0.7"/>
<line x1="222.9" y1="156.9" x2="224.5" y2="156.9" stroke="#555" stroke-width="0.7"/>
<line x1="222.9" y1="151.3" x2="224.5" y2="151.3" stroke="#555" stroke-width="0.7"/>
<line x1="222.9" y1="145.7" x2="224.5" y2="145.7" stroke="#555" stroke-width="0.7"/>
<line x1="222.9" y1="140.1" x2="224.5" y2="140.1" stroke="#555" stroke-width="0.7"/>
<line x1="222.9" y1="134.5" x2="224.5" y2="134.5" stroke="#555" stroke-width="0.7"/>
<line x1="222.9" y1="128.9" x2="224.5" y2="128.9" stroke="#555" stroke-width="0.7"/>
<line x1="239.7" y1="156.9" x2="239.7" y2="158.9" stroke="#666" stroke-width="0.6"/>
<line x1="265.7" y1="156.9" x2="265.7" y2="158.9" stroke="#666" stroke-width="0.6"/>
<line x1="291.8" y1="156.9" x2="291.8" y2="158.9" stroke="#666" stroke-width="0.6"/>
<line x1="317.8" y1="156.9" x2="317.8" y2="158.9" stroke="#666" stroke-width="0.6"/>
<text x="220.6" y="43.5" text-anchor="middle" font-size="7" fill="#333">4</text>
<text x="220.6" y="71.1" text-anchor="middle" font-size="7" fill="#333">5</text>
<text x="220.6" y="109.3" text-anchor="middle" font-size="7" fill="#333">4</text>
<text x="220.6" y="134.0" text-anchor="middle" font-size="7" fill="#333">6</text>
<text transform="translate(216.3,94.4) rotate(-90) scale(1.0,1.18)" text-anchor="middle" font-size="8" fill="#222">Expression Level</text>
<text transform="translate(347,50.7) scale(1,1.15)" text-anchor="middle" font-size="8" font-style="italic" fill="#222">Wnt2</text>
<text transform="translate(347,81.9) scale(1,1.15)" text-anchor="middle" font-size="8" font-style="italic" fill="#222">Shisa2</text>
<text transform="translate(347,113.1) scale(1,1.15)" text-anchor="middle" font-size="8" font-style="italic" fill="#222">Dsp</text>
<text transform="translate(347,144.6) scale(1,1.15)" text-anchor="middle" font-size="8" font-style="italic" fill="#222">Aqp4</text>
<text transform="translate(244.7,163.3) rotate(-45) scale(1,1.15)" text-anchor="end" font-size="8" fill="#222">CA1–2</text>
<text transform="translate(270.7,163.3) rotate(-45) scale(1,1.15)" text-anchor="end" font-size="8" fill="#222">DG</text>
<text transform="translate(296.8,163.3) rotate(-45) scale(1,1.15)" text-anchor="end" font-size="8" fill="#222">Matrix</text>
<text transform="translate(322.8,163.3) rotate(-45) scale(1,1.15)" text-anchor="end" font-size="8" fill="#222">CA3</text>
<defs>
<clipPath id="cb1"><ellipse cx="0" cy="0" rx="0.35" ry="0.2" transform="translate(433.66,113.89) scale(187.6,-190.9) rotate(135)" /></clipPath>
<clipPath id="cr2"><ellipse cx="0" cy="0" rx="0.345" ry="0.15" transform="translate(462.74,94.80) scale(187.6,-190.9) rotate(135)" /></clipPath>
<clipPath id="cr3"><ellipse cx="0" cy="0" rx="0.33" ry="0.15" transform="translate(461.80,94.80) scale(187.6,-190.9) rotate(45)" /></clipPath>
<clipPath id="cb4"><ellipse cx="0" cy="0" rx="0.35" ry="0.2" transform="translate(489.94,113.89) scale(187.6,-190.9) rotate(45)" /></clipPath>
</defs>
<ellipse cx="0" cy="0" rx="0.35" ry="0.2" transform="translate(433.66,113.89) scale(187.6,-190.9) rotate(135)" fill="#8ebfe0"/>
<ellipse cx="0" cy="0" rx="0.35" ry="0.2" transform="translate(489.94,113.89) scale(187.6,-190.9) rotate(45)" fill="#8ebfe0"/>
<g clip-path="url(#cb1)"><ellipse cx="0" cy="0" rx="0.35" ry="0.2" transform="translate(489.94,113.89) scale(187.6,-190.9) rotate(45)" fill="#4a9fcf"/></g>
<ellipse cx="0" cy="0" rx="0.345" ry="0.15" transform="translate(462.74,94.80) scale(187.6,-190.9) rotate(135)" fill="#fb8a8a"/>
<ellipse cx="0" cy="0" rx="0.33" ry="0.15" transform="translate(461.80,94.80) scale(187.6,-190.9) rotate(45)" fill="#fb8a8a"/>
<g clip-path="url(#cb1)"><ellipse cx="0" cy="0" rx="0.345" ry="0.15" transform="translate(462.74,94.80) scale(187.6,-190.9) rotate(135)" fill="#dc6b80"/><ellipse cx="0" cy="0" rx="0.33" ry="0.15" transform="translate(461.80,94.80) scale(187.6,-190.9) rotate(45)" fill="#dc6b80"/></g>
<g clip-path="url(#cb4)"><ellipse cx="0" cy="0" rx="0.345" ry="0.15" transform="translate(462.74,94.80) scale(187.6,-190.9) rotate(135)" fill="#dc6b80"/><ellipse cx="0" cy="0" rx="0.33" ry="0.15" transform="translate(461.80,94.80) scale(187.6,-190.9) rotate(45)" fill="#dc6b80"/></g>
<g clip-path="url(#cb1)"><g clip-path="url(#cb4)"><ellipse cx="0" cy="0" rx="0.345" ry="0.15" transform="translate(462.74,94.80) scale(187.6,-190.9) rotate(135)" fill="#c85e78"/><ellipse cx="0" cy="0" rx="0.33" ry="0.15" transform="translate(461.80,94.80) scale(187.6,-190.9) rotate(45)" fill="#c85e78"/></g></g>
<g clip-path="url(#cr2)"><ellipse cx="0" cy="0" rx="0.33" ry="0.15" transform="translate(461.80,94.80) scale(187.6,-190.9) rotate(45)" fill="#f94c55"/></g>
<g clip-path="url(#cr2)"><g clip-path="url(#cr3)"><ellipse cx="0" cy="0" rx="0.35" ry="0.2" transform="translate(433.66,113.89) scale(187.6,-190.9) rotate(135)" fill="#f0434f"/><ellipse cx="0" cy="0" rx="0.35" ry="0.2" transform="translate(489.94,113.89) scale(187.6,-190.9) rotate(45)" fill="#f0434f"/></g></g>
<g clip-path="url(#cr2)"><g clip-path="url(#cr3)"><g clip-path="url(#cb1)"><ellipse cx="0" cy="0" rx="0.35" ry="0.2" transform="translate(489.94,113.89) scale(187.6,-190.9) rotate(45)" fill="#e83448"/></g></g></g>
<ellipse cx="0" cy="0" rx="0.35" ry="0.2" transform="translate(433.66,113.89) scale(187.6,-190.9) rotate(135)" fill="none" stroke="#2a2a2a" stroke-width="0.9" vector-effect="non-scaling-stroke"/>
<ellipse cx="0" cy="0" rx="0.345" ry="0.15" transform="translate(462.74,94.80) scale(187.6,-190.9) rotate(135)" fill="none" stroke="#2a2a2a" stroke-width="0.9" vector-effect="non-scaling-stroke"/>
<ellipse cx="0" cy="0" rx="0.33" ry="0.15" transform="translate(461.80,94.80) scale(187.6,-190.9) rotate(45)" fill="none" stroke="#2a2a2a" stroke-width="0.9" vector-effect="non-scaling-stroke"/>
<ellipse cx="0" cy="0" rx="0.35" ry="0.2" transform="translate(489.94,113.89) scale(187.6,-190.9) rotate(45)" fill="none" stroke="#2a2a2a" stroke-width="0.9" vector-effect="non-scaling-stroke"/>
<text x="433.5" y="61.9" text-anchor="middle" font-family="Liberation Serif" font-size="14.5" fill="#111">329</text>
<text x="489.4" y="62.0" text-anchor="middle" font-family="Liberation Serif" font-size="14.5" fill="#111">221</text>
<text x="426.4" y="80.5" text-anchor="middle" font-family="Liberation Serif" font-size="14.5" fill="#111">0</text>
<text x="461.6" y="78.0" text-anchor="middle" font-family="Liberation Serif" font-size="14.5" fill="#111">6</text>
<text x="497.5" y="81.0" text-anchor="middle" font-family="Liberation Serif" font-size="14.5" fill="#111">0</text>
<text x="402.5" y="98.4" text-anchor="middle" font-family="Liberation Serif" font-size="14.5" fill="#111">120</text>
<text x="442.6" y="98.2" text-anchor="middle" font-family="Liberation Serif" font-size="14.5" fill="#111">1</text>
<text x="480.8" y="98.1" text-anchor="middle" font-family="Liberation Serif" font-size="14.5" fill="#111">0</text>
<text x="521.9" y="98.7" text-anchor="middle" font-family="Liberation Serif" font-size="14.5" fill="#111">49</text>
<text x="461.6" y="119.8" text-anchor="middle" font-family="Liberation Serif" font-size="14.5" fill="#111">0</text>
<text x="428.5" y="129.5" text-anchor="middle" font-family="Liberation Serif" font-size="14.5" fill="#111">18</text>
<text x="495.2" y="129.3" text-anchor="middle" font-family="Liberation Serif" font-size="14.5" fill="#111">5</text>
<text x="447.7" y="137.0" text-anchor="middle" font-family="Liberation Serif" font-size="14.5" fill="#111">0</text>
<text x="476.3" y="137.0" text-anchor="middle" font-family="Liberation Serif" font-size="14.5" fill="#111">0</text>
<text x="461.2" y="155.9" text-anchor="middle" font-family="Liberation Serif" font-size="14.5" fill="#111">3</text>
<text transform="translate(379.1,56.5) scale(1,1.1)" font-family="Liberation Serif" font-size="13.5" fill="#111">Aged</text>
<text transform="translate(419.1,40.7) scale(1,1.1)" font-family="Liberation Serif" font-size="13.5" fill="#111">Aged</text>
<text transform="translate(479.4,40.8) scale(1,1.1)" font-family="Liberation Serif" font-size="13.5" fill="#111">P21</text>
<text transform="translate(511.3,55.9) scale(1,1.1)" font-family="Liberation Serif" font-size="13.5" fill="#111">P21</text>
<rect x="380.4" y="176.6" width="8.2" height="6.6" fill="#e8101a" stroke="#1a1a3a" stroke-width="1"/>
<text transform="translate(394.6,183.7) scale(1,1.12)" font-size="9.8" fill="#222" textLength="57.2" lengthAdjust="spacingAndGlyphs">Upregulated</text>
<rect x="461.8" y="176.2" width="7.8" height="6.8" fill="#0a7fd0" stroke="#1a1a3a" stroke-width="1"/>
<text transform="translate(476.1,183.7) scale(1,1.12)" font-size="9.8" fill="#222" textLength="70.4" lengthAdjust="spacingAndGlyphs">Downregulated</text>
<rect x="118.6" y="260.3" width="27.40" height="36.30" fill="#ffffff"/>
<rect x="145.7" y="260.3" width="27.70" height="36.30" fill="#fcdcd6"/>
<rect x="173.1" y="260.3" width="27.20" height="36.30" fill="#d0604f"/>
<rect x="200" y="260.3" width="27.10" height="36.30" fill="#f3bfb5"/>
<rect x="118.6" y="296.3" width="27.40" height="36.30" fill="#b3281a"/>
<rect x="145.7" y="296.3" width="27.70" height="36.30" fill="#e08373"/>
<rect x="173.1" y="296.3" width="27.20" height="36.30" fill="#dd7764"/>
<rect x="200" y="296.3" width="27.10" height="36.30" fill="#c34c3b"/>
<rect x="118.6" y="332.3" width="27.40" height="36.40" fill="#d56a58"/>
<rect x="145.7" y="332.3" width="27.70" height="36.40" fill="#eda597"/>
<rect x="173.1" y="332.3" width="27.20" height="36.40" fill="#a71b0d"/>
<rect x="200" y="332.3" width="27.10" height="36.40" fill="#dc7868"/>
<rect x="118.6" y="368.4" width="27.40" height="36.30" fill="#9b0606"/>
<rect x="145.7" y="368.4" width="27.70" height="36.30" fill="#d9705e"/>
<rect x="173.1" y="368.4" width="27.20" height="36.30" fill="#db725f"/>
<rect x="200" y="368.4" width="27.10" height="36.30" fill="#b8301f"/>
<rect x="118.6" y="260.3" width="108.20000000000002" height="144.09999999999997" fill="none" stroke="#111" stroke-width="1.2"/>
<text x="114" y="281.2" text-anchor="end" font-size="7.8" font-weight="bold" fill="#505050" textLength="96.2" lengthAdjust="spacingAndGlyphs">regulation of neurogenesis</text>
<text x="114" y="317.2" text-anchor="end" font-size="7.8" font-weight="bold" fill="#505050" textLength="41.9" lengthAdjust="spacingAndGlyphs">myelination</text>
<text x="114" y="353.2" text-anchor="end" font-size="7.8" font-weight="bold" fill="#505050" textLength="41.3" lengthAdjust="spacingAndGlyphs">gliogenesis</text>
<text x="114" y="388.9" text-anchor="end" font-size="7.8" font-weight="bold" fill="#505050" textLength="91.8" lengthAdjust="spacingAndGlyphs">ensheathment of neurons</text>
<text x="173.4" y="240" text-anchor="middle" font-size="10" fill="#222" textLength="56.3" lengthAdjust="spacingAndGlyphs">upregulated</text>
<text x="173.4" y="252.9" text-anchor="middle" font-size="10" fill="#222" textLength="26.9" lengthAdjust="spacingAndGlyphs">in P21</text>
<text transform="translate(137.79999999999998,413.3) rotate(-45)" text-anchor="end" font-size="10.9" fill="#222">CA1–2</text>
<text transform="translate(165.1,413.3) rotate(-45)" text-anchor="end" font-size="10.9" fill="#222">CA3</text>
<text transform="translate(192.2,413.3) rotate(-45)" text-anchor="end" font-size="10.9" fill="#222">DG</text>
<text transform="translate(219.1,413.3) rotate(-45)" text-anchor="end" font-size="10.9" fill="#222">Matrix</text>
<defs><linearGradient id="gd"><stop offset="0" stop-color="#fdf0ee"/><stop offset="0.5" stop-color="#e08474"/><stop offset="1" stop-color="#a50f0a"/></linearGradient><linearGradient id="ge"><stop offset="0" stop-color="#5a8cbb"/><stop offset="0.33" stop-color="#f5f5f7"/><stop offset="0.66" stop-color="#e58c7c"/><stop offset="1" stop-color="#a30d0b"/></linearGradient></defs>
<rect x="184.2" y="446.3" width="39.3" height="8.1" fill="url(#gd)"/>
<text x="118.3" y="458.7" font-size="8.7" fill="#222" textLength="61.1" lengthAdjust="spacingAndGlyphs">−log10(p.adjust)</text>
<text x="188.1" y="463.4" text-anchor="middle" font-size="8.3" fill="#222">4</text>
<text x="199.4" y="463.4" text-anchor="middle" font-size="8.3" fill="#222">8</text>
<text x="212.1" y="463.4" text-anchor="middle" font-size="8.3" fill="#222">12</text>
<text x="223.9" y="463.4" text-anchor="middle" font-size="8.3" fill="#222">16</text>
<line x1="404.7" y1="243" x2="404.7" y2="427" stroke="#e8e8e8" stroke-width="0.7"/>
<line x1="428.1" y1="243" x2="428.1" y2="427" stroke="#e8e8e8" stroke-width="0.7"/>
<line x1="451.5" y1="243" x2="451.5" y2="427" stroke="#e8e8e8" stroke-width="0.7"/>
<line x1="474.9" y1="243" x2="474.9" y2="427" stroke="#e8e8e8" stroke-width="0.7"/>
<line x1="498.6" y1="243" x2="498.6" y2="427" stroke="#e8e8e8" stroke-width="0.7"/>
<line x1="522.6" y1="243" x2="522.6" y2="427" stroke="#e8e8e8" stroke-width="0.7"/>
<line x1="393" y1="254.5" x2="534.6" y2="254.5" stroke="#e8e8e8" stroke-width="0.7"/>
<line x1="393" y1="277.5" x2="534.6" y2="277.5" stroke="#e8e8e8" stroke-width="0.7"/>
<line x1="393" y1="300.5" x2="534.6" y2="300.5" stroke="#e8e8e8" stroke-width="0.7"/>
<line x1="393" y1="323.5" x2="534.6" y2="323.5" stroke="#e8e8e8" stroke-width="0.7"/>
<line x1="393" y1="346.5" x2="534.6" y2="346.5" stroke="#e8e8e8" stroke-width="0.7"/>
<line x1="393" y1="369.5" x2="534.6" y2="369.5" stroke="#e8e8e8" stroke-width="0.7"/>
<line x1="393" y1="392.5" x2="534.6" y2="392.5" stroke="#e8e8e8" stroke-width="0.7"/>
<line x1="393" y1="415.5" x2="534.6" y2="415.5" stroke="#e8e8e8" stroke-width="0.7"/>
<rect x="393" y="243" width="23.6" height="23.2" fill="#efaa9b"/>
<line x1="404.7" y1="243" x2="404.7" y2="266" stroke="#fff" stroke-opacity="0.04" stroke-width="0.7"/><line x1="393" y1="254.5" x2="416.4" y2="254.5" stroke="#fff" stroke-opacity="0.04" stroke-width="0.7"/>
<rect x="416.4" y="243" width="23.6" height="23.2" fill="#f2b5a8"/>
<line x1="428.1" y1="243" x2="428.1" y2="266" stroke="#fff" stroke-opacity="0.04" stroke-width="0.7"/><line x1="416.4" y1="254.5" x2="439.8" y2="254.5" stroke="#fff" stroke-opacity="0.04" stroke-width="0.7"/>
<rect x="439.8" y="243" width="23.6" height="23.2" fill="#f2b8ac"/>
<line x1="451.5" y1="243" x2="451.5" y2="266" stroke="#fff" stroke-opacity="0.04" stroke-width="0.7"/><line x1="439.8" y1="254.5" x2="463.2" y2="254.5" stroke="#fff" stroke-opacity="0.04" stroke-width="0.7"/>
<rect x="463.2" y="243" width="23.6" height="23.2" fill="#eea897"/>
<line x1="474.9" y1="243" x2="474.9" y2="266" stroke="#fff" stroke-opacity="0.04" stroke-width="0.7"/><line x1="463.2" y1="254.5" x2="486.6" y2="254.5" stroke="#fff" stroke-opacity="0.04" stroke-width="0.7"/>
<rect x="393" y="266" width="23.6" height="23.2" fill="#d46a58"/>
<line x1="404.7" y1="266" x2="404.7" y2="289" stroke="#fff" stroke-opacity="0.04" stroke-width="0.7"/><line x1="393" y1="277.5" x2="416.4" y2="277.5" stroke="#fff" stroke-opacity="0.04" stroke-width="0.7"/>
<rect x="416.4" y="266" width="23.6" height="23.2" fill="#eeaa9a"/>
<line x1="428.1" y1="266" x2="428.1" y2="289" stroke="#fff" stroke-opacity="0.04" stroke-width="0.7"/><line x1="416.4" y1="277.5" x2="439.8" y2="277.5" stroke="#fff" stroke-opacity="0.04" stroke-width="0.7"/>
<rect x="463.2" y="266" width="23.6" height="23.2" fill="#d56e5c"/>
<line x1="474.9" y1="266" x2="474.9" y2="289" stroke="#fff" stroke-opacity="0.04" stroke-width="0.7"/><line x1="463.2" y1="277.5" x2="486.6" y2="277.5" stroke="#fff" stroke-opacity="0.04" stroke-width="0.7"/>
<rect x="393" y="289" width="23.6" height="23.2" fill="#d06250"/>
<line x1="404.7" y1="289" x2="404.7" y2="312" stroke="#fff" stroke-opacity="0.04" stroke-width="0.7"/><line x1="393" y1="300.5" x2="416.4" y2="300.5" stroke="#fff" stroke-opacity="0.04" stroke-width="0.7"/>
<rect x="416.4" y="289" width="23.6" height="23.2" fill="#eeaa9a"/>
<line x1="428.1" y1="289" x2="428.1" y2="312" stroke="#fff" stroke-opacity="0.04" stroke-width="0.7"/><line x1="416.4" y1="300.5" x2="439.8" y2="300.5" stroke="#fff" stroke-opacity="0.04" stroke-width="0.7"/>
<rect x="463.2" y="289" width="23.6" height="23.2" fill="#d56d5c"/>
<line x1="474.9" y1="289" x2="474.9" y2="312" stroke="#fff" stroke-opacity="0.04" stroke-width="0.7"/><line x1="463.2" y1="300.5" x2="486.6" y2="300.5" stroke="#fff" stroke-opacity="0.04" stroke-width="0.7"/>
<rect x="393" y="312" width="23.6" height="23.2" fill="#e58a7a"/>
<line x1="404.7" y1="312" x2="404.7" y2="335" stroke="#fff" stroke-opacity="0.04" stroke-width="0.7"/><line x1="393" y1="323.5" x2="416.4" y2="323.5" stroke="#fff" stroke-opacity="0.04" stroke-width="0.7"/>
<rect x="416.4" y="312" width="23.6" height="23.2" fill="#eba596"/>
<line x1="428.1" y1="312" x2="428.1" y2="335" stroke="#fff" stroke-opacity="0.04" stroke-width="0.7"/><line x1="416.4" y1="323.5" x2="439.8" y2="323.5" stroke="#fff" stroke-opacity="0.04" stroke-width="0.7"/>
<rect x="463.2" y="312" width="23.6" height="23.2" fill="#9e0000"/>
<line x1="474.9" y1="312" x2="474.9" y2="335" stroke="#fff" stroke-opacity="0.04" stroke-width="0.7"/><line x1="463.2" y1="323.5" x2="486.6" y2="323.5" stroke="#fff" stroke-opacity="0.04" stroke-width="0.7"/>
<rect x="486.6" y="335" width="24.2" height="23.2" fill="#c6d4e3"/>
<line x1="498.6" y1="335" x2="498.6" y2="358" stroke="#fff" stroke-opacity="0.04" stroke-width="0.7"/><line x1="486.6" y1="346.5" x2="510.6" y2="346.5" stroke="#fff" stroke-opacity="0.04" stroke-width="0.7"/>
<rect x="510.6" y="358" width="24.2" height="23.2" fill="#8eadc8"/>
<line x1="522.6" y1="358" x2="522.6" y2="381" stroke="#fff" stroke-opacity="0.04" stroke-width="0.7"/><line x1="510.6" y1="369.5" x2="534.6" y2="369.5" stroke="#fff" stroke-opacity="0.04" stroke-width="0.7"/>
<rect x="510.6" y="381" width="24.2" height="23.2" fill="#7ea2c2"/>
<line x1="522.6" y1="381" x2="522.6" y2="404" stroke="#fff" stroke-opacity="0.04" stroke-width="0.7"/><line x1="510.6" y1="392.5" x2="534.6" y2="392.5" stroke="#fff" stroke-opacity="0.04" stroke-width="0.7"/>
<rect x="510.6" y="404" width="24.2" height="23.2" fill="#7a9ec0"/>
<line x1="522.6" y1="404" x2="522.6" y2="427" stroke="#fff" stroke-opacity="0.04" stroke-width="0.7"/><line x1="510.6" y1="415.5" x2="534.6" y2="415.5" stroke="#fff" stroke-opacity="0.04" stroke-width="0.7"/>
<rect x="393" y="243" width="93.60000000000002" height="184" fill="none" stroke="#111" stroke-width="1.2"/>
<rect x="486.6" y="243" width="48.0" height="184" fill="none" stroke="#111" stroke-width="1.2"/>
<text x="388.2" y="253.1" text-anchor="end" font-size="8.4" font-weight="bold" fill="#505050">regulation of T cell</text>
<text x="388.2" y="262.1" text-anchor="end" font-size="8.4" font-weight="bold" fill="#505050">proliferation</text>
<text x="388.2" y="276.1" text-anchor="end" font-size="8.4" font-weight="bold" fill="#505050">positive regulation of</text>
<text x="388.2" y="285.1" text-anchor="end" font-size="8.4" font-weight="bold" fill="#505050">inflammatory response</text>
<text x="388.2" y="303.6" text-anchor="end" font-size="8.4" font-weight="bold" fill="#505050">neuron apoptotic process</text>
<text x="388.2" y="326.6" text-anchor="end" font-size="8.4" font-weight="bold" fill="#505050">regulation of neurogenesis</text>
<text x="388.2" y="349.6" text-anchor="end" font-size="8.4" font-weight="bold" fill="#505050">axon regeneration</text>
<text x="388.2" y="372.6" text-anchor="end" font-size="8.4" font-weight="bold" fill="#505050">neurotransmitter secretion</text>
<text x="388.2" y="391.1" text-anchor="end" font-size="8.4" font-weight="bold" fill="#505050">vesicle-mediated transport in</text>
<text x="388.2" y="400.1" text-anchor="end" font-size="8.4" font-weight="bold" fill="#505050">synapse</text>
<text x="388.2" y="418.6" text-anchor="end" font-size="8.4" font-weight="bold" fill="#505050">synaptic vesicle cycle</text>
<text x="438.4" y="227" text-anchor="middle" font-size="10" fill="#222" textLength="55.9" lengthAdjust="spacingAndGlyphs">upregulated</text>
<text x="438.1" y="239.2" text-anchor="middle" font-size="10" fill="#222" textLength="32.7" lengthAdjust="spacingAndGlyphs">in aged</text>
<text x="512.2" y="227" text-anchor="middle" font-size="10" fill="#222" textLength="70.1" lengthAdjust="spacingAndGlyphs">downregulated</text>
<text x="511.8" y="239.2" text-anchor="middle" font-size="10" fill="#222" textLength="32.8" lengthAdjust="spacingAndGlyphs">in aged</text>
<text transform="translate(409.6,435.6) rotate(-45)" text-anchor="end" font-size="10.6" fill="#222">CA1–2</text>
<text transform="translate(433.0,435.6) rotate(-45)" text-anchor="end" font-size="10.6" fill="#222">CA3</text>
<text transform="translate(456.4,435.6) rotate(-45)" text-anchor="end" font-size="10.6" fill="#222">DG</text>
<text transform="translate(479.8,435.6) rotate(-45)" text-anchor="end" font-size="10.6" fill="#222">Matrix</text>
<text transform="translate(503.5,435.6) rotate(-45)" text-anchor="end" font-size="10.6" fill="#222">CA1–2</text>
<text transform="translate(527.5,435.6) rotate(-45)" text-anchor="end" font-size="10.6" fill="#222">Matrix</text>
<rect x="468.7" y="462.2" width="40" height="7.4" fill="url(#ge)"/>
<text x="406.1" y="475" font-size="9.4" fill="#222" textLength="59.8" lengthAdjust="spacingAndGlyphs">−log10(p.adjust)</text>
<text x="469.8" y="478.4" text-anchor="middle" font-size="8.6" fill="#222">−4</text>
<text x="483.1" y="478.4" text-anchor="middle" font-size="8.6" fill="#222">0</text>
<text x="495.3" y="478.4" text-anchor="middle" font-size="8.6" fill="#222">4</text>
<text x="507.5" y="478.4" text-anchor="middle" font-size="8.6" fill="#222">8</text>
<text x="6.5" y="17.8" font-size="17.5" fill="#111">a</text>
<text x="207" y="17.8" font-size="17.5" fill="#111">b</text>
<text x="368.3" y="17.8" font-size="17.5" fill="#111">c</text>
<text x="10" y="229" font-size="17.5" fill="#111">d</text>
<text x="286.7" y="229.1" font-size="17.5" fill="#111">e</text>
</svg>
</body></html>
